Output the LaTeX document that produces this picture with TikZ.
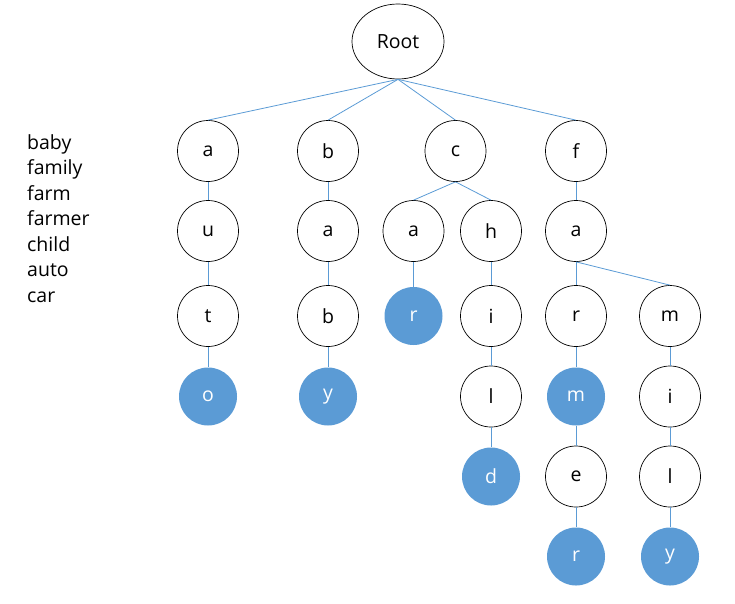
\documentclass[tikz,border=0pt]{standalone}
\usepackage{fontspec}
\setmainfont{Open Sans}
\usetikzlibrary{shapes.geometric}
\definecolor{trieblue}{HTML}{5B9BD5}
\begin{document}
\begin{tikzpicture}[x=1pt,y=-1pt,
    letter/.style={circle, draw=black, line width=0.7pt, fill=white, minimum size=61pt, inner sep=0pt, font=\fontsize{19.5}{23}\selectfont},
    endletter/.style={circle, fill=trieblue, text=white, minimum size=58pt, inner sep=0pt, font=\fontsize{19.5}{23}\selectfont},
    edge/.style={trieblue, line width=0.8pt}]
        \useasboundingbox (0,0) rectangle (735,603);

        % word list
        \foreach \w [count=\i] in {baby,family,farm,farmer,child,auto,car}
            \node[anchor=base west, inner sep=0pt, font=\fontsize{19.5}{23}\selectfont] (w\i) at (27,{149+25.5*(\i-1)}) {\w};

        \node[ellipse, draw=black, line width=0.7pt, minimum width=92pt, minimum height=75pt, inner sep=0pt, font=\fontsize{19.5}{23}\selectfont] (root) at (398,41.5) {Root};

        \node[letter] (a1) at (208,151) {a};
        \node[letter] (u1) at (208,231) {u};
        \node[letter] (t1) at (208,316) {t};
        \node[endletter] (o1) at (208,396.5) {o};

        \node[letter] (b1) at (328,151) {b};
        \node[letter] (a2) at (328,231) {a};
        \node[letter] (b2) at (328,316) {b};
        \node[endletter] (y1) at (328,396.5) {y};

        \node[letter] (c1) at (455.5,151) {c};
        \node[letter] (a3) at (413.5,231) {a};
        \node[endletter] (r1) at (413.5,316) {r};
        \node[letter] (h1) at (491,231) {h};
        \node[letter] (i1) at (491,316) {i};
        \node[letter] (l1) at (491,396.5) {l};
        \node[endletter] (d1) at (491,476.5) {d};

        \node[letter] (f1) at (576,151) {f};
        \node[letter] (a4) at (576,231) {a};
        \node[letter] (r2) at (576,316) {r};
        \node[endletter] (m1) at (576,396.5) {m};
        \node[letter] (e1) at (576,476.5) {e};
        \node[endletter] (r3) at (576,556.5) {r};
        \node[letter] (m2) at (670,316) {m};
        \node[letter] (i2) at (670,396.5) {i};
        \node[letter] (l2) at (670,476.5) {l};
        \node[endletter] (y2) at (670,556.5) {y};

        \draw[edge] (root.south) -- (a1.north);
        \draw[edge] (root.south) -- (b1.north);
        \draw[edge] (root.south) -- (c1.north);
        \draw[edge] (root.south) -- (f1.north);
        \draw[edge] (a1) -- (u1);
        \draw[edge] (u1) -- (t1);
        \draw[edge] (t1) -- (o1);
        \draw[edge] (b1) -- (a2);
        \draw[edge] (a2) -- (b2);
        \draw[edge] (b2) -- (y1);
        \draw[edge] (c1.south) -- (a3.north);
        \draw[edge] (c1.south) -- (h1.north);
        \draw[edge] (a3) -- (r1);
        \draw[edge] (h1) -- (i1);
        \draw[edge] (i1) -- (l1);
        \draw[edge] (l1) -- (d1);
        \draw[edge] (f1) -- (a4);
        \draw[edge] (a4.south) -- (r2.north);
        \draw[edge] (a4.south) -- (m2.north);
        \draw[edge] (r2) -- (m1);
        \draw[edge] (m1) -- (e1);
        \draw[edge] (e1) -- (r3);
        \draw[edge] (m2) -- (i2);
        \draw[edge] (i2) -- (l2);
        \draw[edge] (l2) -- (y2);

    \end{tikzpicture}
\end{document}
